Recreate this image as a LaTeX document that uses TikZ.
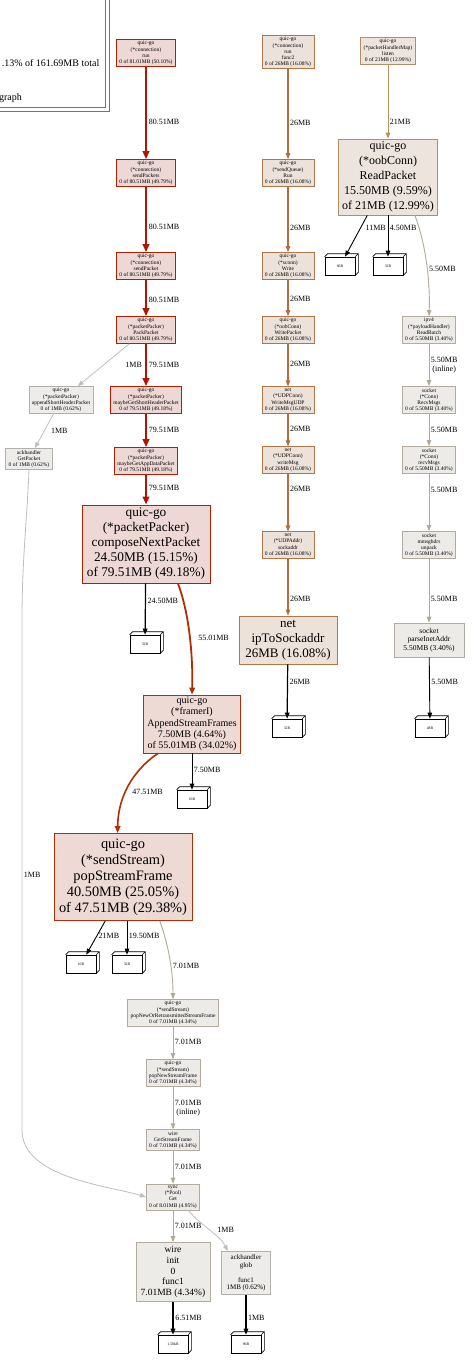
\documentclass[tikz,border=0pt]{standalone}
\usepackage{fontspec}
\setmainfont{Liberation Serif}
\usepackage{tikz}
\usetikzlibrary{arrows.meta, positioning}
\definecolor{hotln}{RGB}{178,30,0}
\definecolor{hotbg}{RGB}{237,216,213}
\definecolor{warmln}{RGB}{178,48,0}
\definecolor{warmbg}{RGB}{237,218,213}
\definecolor{brnln}{RGB}{178,118,70}
\definecolor{brnbg}{RGB}{237,226,218}
\definecolor{sandln}{RGB}{178,142,100}
\definecolor{sandbg}{RGB}{237,229,221}
\definecolor{gryln}{RGB}{178,171,158}
\definecolor{grybg}{RGB}{237,235,232}
\definecolor{lgtln}{RGB}{178,176,170}
\definecolor{lgtbg}{RGB}{237,236,234}
\definecolor{ehot}{RGB}{178,22,0}
\definecolor{ewarm}{RGB}{178,45,0}
\definecolor{ebrn}{RGB}{178,110,60}
\definecolor{esand}{RGB}{178,145,95}
\definecolor{egry}{RGB}{178,170,150}
\definecolor{elgt}{RGB}{190,190,190}

% allocation box with a 3d rim
\newcommand{\memblk}[3]{%
  \node[mem] (#1) at (#2) {#3};
  \draw[line width=0.6pt] (#1.north west) -- ++(3pt,3pt) -- ([shift={(3pt,3pt)}]#1.north east)
    -- ([shift={(3pt,3pt)}]#1.south east) -- (#1.south east)
    (#1.north east) -- ++(3pt,3pt);}

\begin{document}
\begin{tikzpicture}[x=1pt, y=-1pt,
  fn/.style={draw, align=center, line width=0.6pt, inner xsep=3pt, inner ysep=1.8pt,
             font=\fontsize{5.5}{6.2}\selectfont},
  hot/.style={fn, draw=hotln, fill=hotbg},
  brn/.style={fn, draw=brnln, fill=brnbg},
  sand/.style={fn, draw=sandln, fill=sandbg},
  gry/.style={fn, draw=gryln, fill=grybg},
  lgt/.style={fn, draw=lgtln, fill=lgtbg},
  bg/.style={draw, align=center, line width=0.8pt, inner xsep=4pt, inner ysep=2pt},
  mem/.style={draw, fill=white, line width=0.6pt, minimum width=30pt, minimum height=18pt,
              inner sep=0pt, font=\fontsize{3.8}{4.2}\selectfont},
  el/.style={font=\fontsize{8}{9}\selectfont, right, inner sep=1.5pt, align=center},
  a/.style={-{Triangle[length=6pt,width=4.5pt]}, line width=0.9pt},
  ahot/.style={-{Triangle[length=8pt,width=6.5pt]}, line width=2.6pt, draw=ehot},
  awarm/.style={-{Triangle[length=7pt,width=5.5pt]}, line width=1.8pt, draw=ewarm},
  abrn/.style={a, line width=1.1pt, draw=ebrn},
  asand/.style={a, draw=esand},
  agry/.style={a, draw=egry},
  algt/.style={a, line width=0.8pt, draw=elgt},
  ablk/.style={a, line width=1.2pt}]
\useasboundingbox (0,0) rectangle (474,1360);
\fill[white] (0,0) rectangle (474,1360);

% legend
\draw[black!55, line width=0.6pt] (-20,-20) rectangle (105,107);
\draw[black!55, line width=0.6pt] (109,-20) |- (-20,111);
\node[anchor=east, inner sep=0pt, font=\fontsize{10}{12}\selectfont] (legtot) at (99.5,63) {.13\% of 161.69MB total};
\node[anchor=east, inner sep=0pt, font=\fontsize{10}{12}\selectfont] (leggr) at (22,98) {graph};

% send path
\node[hot] (run) at (146,53) {quic-go\\(*connection)\\run\\0 of 81.01MB (50.10\%)};
\node[hot] (sendPackets) at (146,173) {quic-go\\(*connection)\\sendPackets\\0 of 80.51MB (49.79\%)};
\node[hot] (sendPacket) at (146,266) {quic-go\\(*connection)\\sendPacket\\0 of 80.51MB (49.79\%)};
\node[hot] (packPacket) at (146,330) {quic-go\\(*packetPacker)\\PackPacket\\0 of 80.51MB (49.79\%)};
\node[hot] (maybeShort) at (146,400) {quic-go\\(*packetPacker)\\maybeGetShortHeaderPacket\\0 of 79.51MB (49.18\%)};
\node[hot] (maybeApp) at (146,461) {quic-go\\(*packetPacker)\\maybeGetAppDataPacket\\0 of 79.51MB (49.18\%)};
\node[lgt] (appendShort) at (61,400) {quic-go\\(*packetPacker)\\appendShortHeaderPacket\\0 of 1MB (0.62\%)};
\node[lgt] (getPacket) at (29,459) {ackhandler\\GetPacket\\0 of 1MB (0.62\%)};
\node[bg, draw=hotln, fill=hotbg, font=\fontsize{13.3}{15}\selectfont, minimum width=128pt,
      minimum height=78pt] (compose) at (146,544)
      {quic-go\\(*packetPacker)\\composeNextPacket\\24.50MB (15.15\%)\\of 79.51MB (49.18\%)};
\node[bg, draw=warmln, fill=warmbg, font=\fontsize{10}{11.3}\selectfont, minimum width=96pt,
      minimum height=56pt] (append) at (192,724)
      {quic-go\\(*framerI)\\AppendStreamFrames\\7.50MB (4.64\%)\\of 55.01MB (34.02\%)};
\node[bg, draw=warmln, fill=warmbg, font=\fontsize{14.4}{16}\selectfont, minimum width=138pt,
      minimum height=87pt] (popStream) at (123,877)
      {quic-go\\(*sendStream)\\popStreamFrame\\40.50MB (25.05\%)\\of 47.51MB (29.38\%)};
\node[gry] (popNewOr) at (173,1013) {quic-go\\(*sendStream)\\popNewOrRetransmittedStreamFrame\\0 of 7.01MB (4.34\%)};
\node[gry] (popNew) at (173,1073) {quic-go\\(*sendStream)\\popNewStreamFrame\\0 of 7.01MB (4.34\%)};
\node[gry] (getStream) at (173,1140) {wire\\GetStreamFrame\\0 of 7.01MB (4.34\%)};
\node[gry] (poolGet) at (173,1197) {sync\\(*Pool)\\Get\\0 of 8.01MB (4.95\%)};
\node[bg, draw=gryln, fill=grybg, line width=0.6pt, font=\fontsize{9.5}{10.7}\selectfont,
      minimum width=74pt, minimum height=59pt] (wireInit) at (173,1272)
      {wire\\init\\0\\func1\\7.01MB (4.34\%)};
\node[bg, draw=lgtln, fill=lgtbg, line width=0.6pt, font=\fontsize{7}{7.5}\selectfont,
      minimum width=49pt, minimum height=43pt] (ackGlob) at (246,1273)
      {ackhandler\\glob\\\mbox{}\\func1\\1MB (0.62\%)};

% write path
\node[brn] (func2) at (288,52) {quic-go\\(*connection)\\run\\func2\\0 of 26MB (16.08\%)};
\node[brn] (sendQueue) at (288,173) {quic-go\\(*sendQueue)\\Run\\0 of 26MB (16.08\%)};
\node[brn] (sconn) at (288,266) {quic-go\\(*sconn)\\Write\\0 of 26MB (16.08\%)};
\node[brn] (writePacket) at (288,330) {quic-go\\(*oobConn)\\WritePacket\\0 of 26MB (16.08\%)};
\node[brn] (writeMsgUDP) at (288,400) {net\\(*UDPConn)\\WriteMsgUDP\\0 of 26MB (16.08\%)};
\node[brn] (writeMsg) at (288,460) {net\\(*UDPConn)\\writeMsg\\0 of 26MB (16.08\%)};
\node[brn] (sockaddr) at (288,545) {net\\(*UDPAddr)\\sockaddr\\0 of 26MB (16.08\%)};
\node[bg, draw=brnln, fill=brnbg, font=\fontsize{13}{15}\selectfont, minimum width=98pt,
      minimum height=48pt] (ipTo) at (288,640) {net\\ipToSockaddr\\26MB (16.08\%)};

% read path
\node[sand] (listen) at (388,51) {quic-go\\(*packetHandlerMap)\\listen\\0 of 21MB (12.99\%)};
\node[bg, draw=sandln, fill=sandbg, font=\fontsize{12}{15}\selectfont, minimum width=96pt,
      minimum height=76pt] (readPacket) at (388,177)
      {quic-go\\(*oobConn)\\ReadPacket\\15.50MB (9.59\%)\\of 21MB (12.99\%)};
\node[gry] (readBatch) at (429,330) {ipv4\\(*payloadHandler)\\ReadBatch\\0 of 5.50MB (3.40\%)};
\node[gry] (recvMsgsA) at (429,400) {socket\\(*Conn)\\RecvMsgs\\0 of 5.50MB (3.40\%)};
\node[gry] (recvMsgsB) at (429,460) {socket\\(*Conn)\\recvMsgs\\0 of 5.50MB (3.40\%)};
\node[gry] (unpack) at (429,545) {socket\\mmsghdrs\\unpack\\0 of 5.50MB (3.40\%)};
\node[gry, font=\fontsize{7.5}{8.3}\selectfont, minimum width=70pt, minimum height=34pt]
      (parseInet) at (429,640) {socket\\parseInetAddr\\5.50MB (3.40\%)};

% allocations
\memblk{memA}{145,644}{32B}
\memblk{memB}{192,799}{16B}
\memblk{memC}{81,964}{16B}
\memblk{memD}{127,964}{32B}
\memblk{memE}{173,1344}{1.50kB}
\memblk{memF}{246,1344}{96B}
\memblk{memG}{287,728}{32B}
\memblk{memH}{340,266}{96B}
\memblk{memI}{388,266}{32B}
\memblk{memJ}{430,728}{48B}

\draw[ahot] (run) -- (sendPackets) node[el, pos=0.6] {80.51MB};
\draw[ahot] (sendPackets) -- (sendPacket) node[el, pos=0.62] {80.51MB};
\draw[ahot] (sendPacket) -- (packPacket) node[el, pos=0.54] {80.51MB};
\draw[ahot] (packPacket) -- (maybeShort) node[el, pos=0.5] {79.51MB};
\draw[ahot] (maybeShort) -- (maybeApp) node[el, pos=0.47] {79.51MB};
\draw[ahot] (maybeApp) -- (compose) node[el, pos=0.45] {79.51MB};
\draw[algt] (packPacket) -- (appendShort) node[el, pos=0.5, xshift=20pt] {1MB};
\draw[algt] (appendShort) -- (getPacket) node[el, pos=0.5, xshift=5pt] {1MB};
\draw[algt] (getPacket.south) .. controls (27,520) and (22,560) .. (22,620)
  -- node[el, pos=0.5] {1MB} (22,1130) .. controls (22,1178) and (110,1186) .. (poolGet.west);
\draw[ablk] (compose) -- (memA) node[el, pos=0.35] {24.50MB};
\draw[awarm] (compose.-51) .. controls (190,615) and (193,660) .. (append.north)
  node[el, pos=0.5, xshift=6pt] {55.01MB};
\draw[ablk, line width=0.9pt] (append) -- (memB) node[el, pos=0.45] {7.50MB};
\draw[awarm, line width=1.6pt] (append.-139) .. controls (140,765) and (118,790) .. (popStream.97)
  node[el, pos=0.62, xshift=4pt] {47.51MB};
\draw[ablk, line width=0.9pt] (popStream.-112) -- (memC) node[el, pos=0.45] {21MB};
\draw[ablk, line width=0.9pt] (memD |- popStream.south) -- (memD) node[el, pos=0.45] {19.50MB};
\draw[agry] (popStream.-50) .. controls (170,950) and (173,975) .. (popNewOr.north)
  node[el, pos=0.55] {7.01MB};
\draw[agry] (popNewOr) -- (popNew) node[el, pos=0.47] {7.01MB};
\draw[agry] (popNew) -- (getStream) node[el, pos=0.5] {7.01MB\\(inline)};
\draw[agry] (getStream) -- (poolGet) node[el, pos=0.5] {7.01MB};
\draw[agry] (poolGet) -- (wireInit) node[el, pos=0.5] {7.01MB};
\draw[algt] (poolGet.-41) .. controls (200,1225) and (220,1235) .. (ackGlob.130)
  node[el, pos=0.5, xshift=6pt] {1MB};
\draw[ablk, line width=1.5pt] (wireInit) -- (memE) node[el, pos=0.5] {6.51MB};
\draw[ablk] (ackGlob) -- (memF) node[el, pos=0.57] {1MB};

\draw[abrn] (func2) -- (sendQueue) node[el, pos=0.6] {26MB};
\draw[abrn] (sendQueue) -- (sconn) node[el, pos=0.63] {26MB};
\draw[abrn] (sconn) -- (writePacket) node[el, pos=0.53] {26MB};
\draw[abrn] (writePacket) -- (writeMsgUDP) node[el, pos=0.48] {26MB};
\draw[abrn] (writeMsgUDP) -- (writeMsg) node[el, pos=0.47] {26MB};
\draw[abrn] (writeMsg) -- (sockaddr) node[el, pos=0.27] {26MB};
\draw[abrn] (sockaddr) -- (ipTo) node[el, pos=0.7] {26MB};
\draw[ablk] (ipTo) -- (memG) node[el, pos=0.32] {26MB};

\draw[asand] (listen) -- (readPacket) node[el, pos=0.77] {21MB};
\draw[ablk, line width=0.9pt] (readPacket) -- (memH) node[el, pos=0.3, xshift=3pt] {11MB};
\draw[ablk, line width=0.9pt] (readPacket) -- (memI) node[el, pos=0.3] {4.50MB};
\draw[agry] (readPacket.-55) .. controls (428,250) and (430,290) .. (readBatch.north)
  node[el, pos=0.5] {5.50MB};
\draw[agry] (readBatch) -- (recvMsgsA) node[el, pos=0.5] {5.50MB\\(inline)};
\draw[agry] (recvMsgsA) -- (recvMsgsB) node[el, pos=0.5] {5.50MB};
\draw[agry] (recvMsgsB) -- (unpack) node[el, pos=0.28] {5.50MB};
\draw[agry] (unpack) -- (parseInet) node[el, pos=0.63] {5.50MB};
\draw[ablk, line width=0.9pt] (parseInet) -- (memJ) node[el, pos=0.4] {5.50MB};
\end{tikzpicture}
\end{document}
